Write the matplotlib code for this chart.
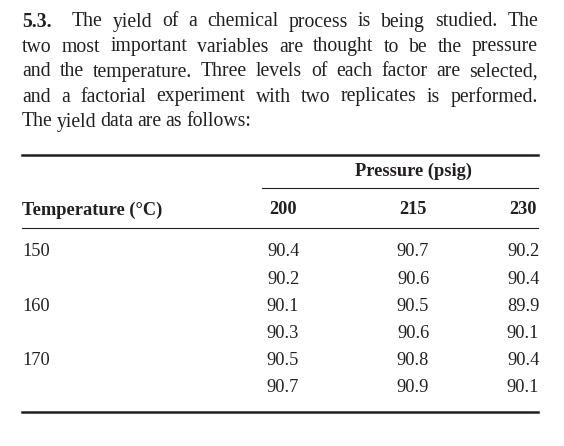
#!/usr/bin/env python3
"""Recreate textbook problem 5.3 yield table as a matplotlib figure."""

import matplotlib.pyplot as plt

paragraph = [
    "The yield of a chemical process is being studied. The",
    "two most important variables are thought to be the pressure",
    "and the temperature. Three levels of each factor are selected,",
    "and a factorial experiment with two replicates is performed.",
    "The yield data are as follows:",
]
pressures = ["200", "215", "230"]
temperatures = ["150", "160", "170"]
yields = [
    ["90.4", "90.7", "90.2"],
    ["90.2", "90.6", "90.4"],
    ["90.1", "90.5", "89.9"],
    ["90.3", "90.6", "90.1"],
    ["90.5", "90.8", "90.4"],
    ["90.7", "90.9", "90.1"],
]

W, H, DPI = 564, 446, 100
LEFT, RIGHT = 22, 538
plt.rcParams["font.family"] = ["Liberation Serif", "DejaVu Serif"]
FS = 14.2
TFS = 13.2
INK = "#231f20"

fig = plt.figure(figsize=(W / DPI, H / DPI), dpi=DPI)
ax = fig.add_axes([0, 0, 1, 1])
ax.set_xlim(0, W)
ax.set_ylim(H, 0)
ax.axis("off")
fig.canvas.draw()
renderer = fig.canvas.get_renderer()


def width_px(t):
    return t.get_window_extent(renderer).width


# justified paragraph
for i, line in enumerate(paragraph):
    y = 22 + i * 25
    items = [("5.3.", "bold")] if i == 0 else []
    items += [(w, "normal") for w in line.split()]
    texts = [ax.text(0, y, w, fontsize=FS, fontweight=fw, va="center", ha="left", color=INK)
             for w, fw in items]
    widths = [width_px(t) for t in texts]
    extra = 10 if i == 0 else 0
    gaps = len(texts) - 1
    if i == len(paragraph) - 1:
        gap = 4.0
    else:
        gap = max(2.5, (RIGHT - LEFT - sum(widths) - extra) / gaps)
    x = LEFT
    for k, (t, w) in enumerate(zip(texts, widths)):
        t.set_x(x)
        x += w + gap + (extra if k == 0 else 0)

# table rules
ax.plot([LEFT, RIGHT], [155, 155], color=INK, lw=1.8)
ax.plot([262, RIGHT], [188, 188], color=INK, lw=0.8)
ax.plot([LEFT, RIGHT], [228, 228], color=INK, lw=0.8)
ax.plot([LEFT, RIGHT], [412, 412], color=INK, lw=1.8)

col_x = [283, 413, 523]
ax.text(413, 171, "Pressure (psig)", fontsize=TFS, fontweight="bold", ha="center", va="center", color=INK)
ax.text(LEFT, 210, "Temperature (°C)", fontsize=TFS, fontweight="bold", ha="left", va="center", color=INK)
for x, p in zip(col_x, pressures):
    ax.text(x, 210, p, fontsize=TFS, fontweight="bold", ha="center", va="center", color=INK)

for r, row in enumerate(yields):
    y = 252 + r * 27.2
    if r % 2 == 0:
        ax.text(LEFT, y, temperatures[r // 2], fontsize=TFS, ha="left", va="center", color=INK)
    for x, v in zip(col_x, row):
        ax.text(x, y, v, fontsize=TFS, ha="center", va="center", color=INK)

fig.savefig("out.png", dpi=DPI, facecolor="white")
